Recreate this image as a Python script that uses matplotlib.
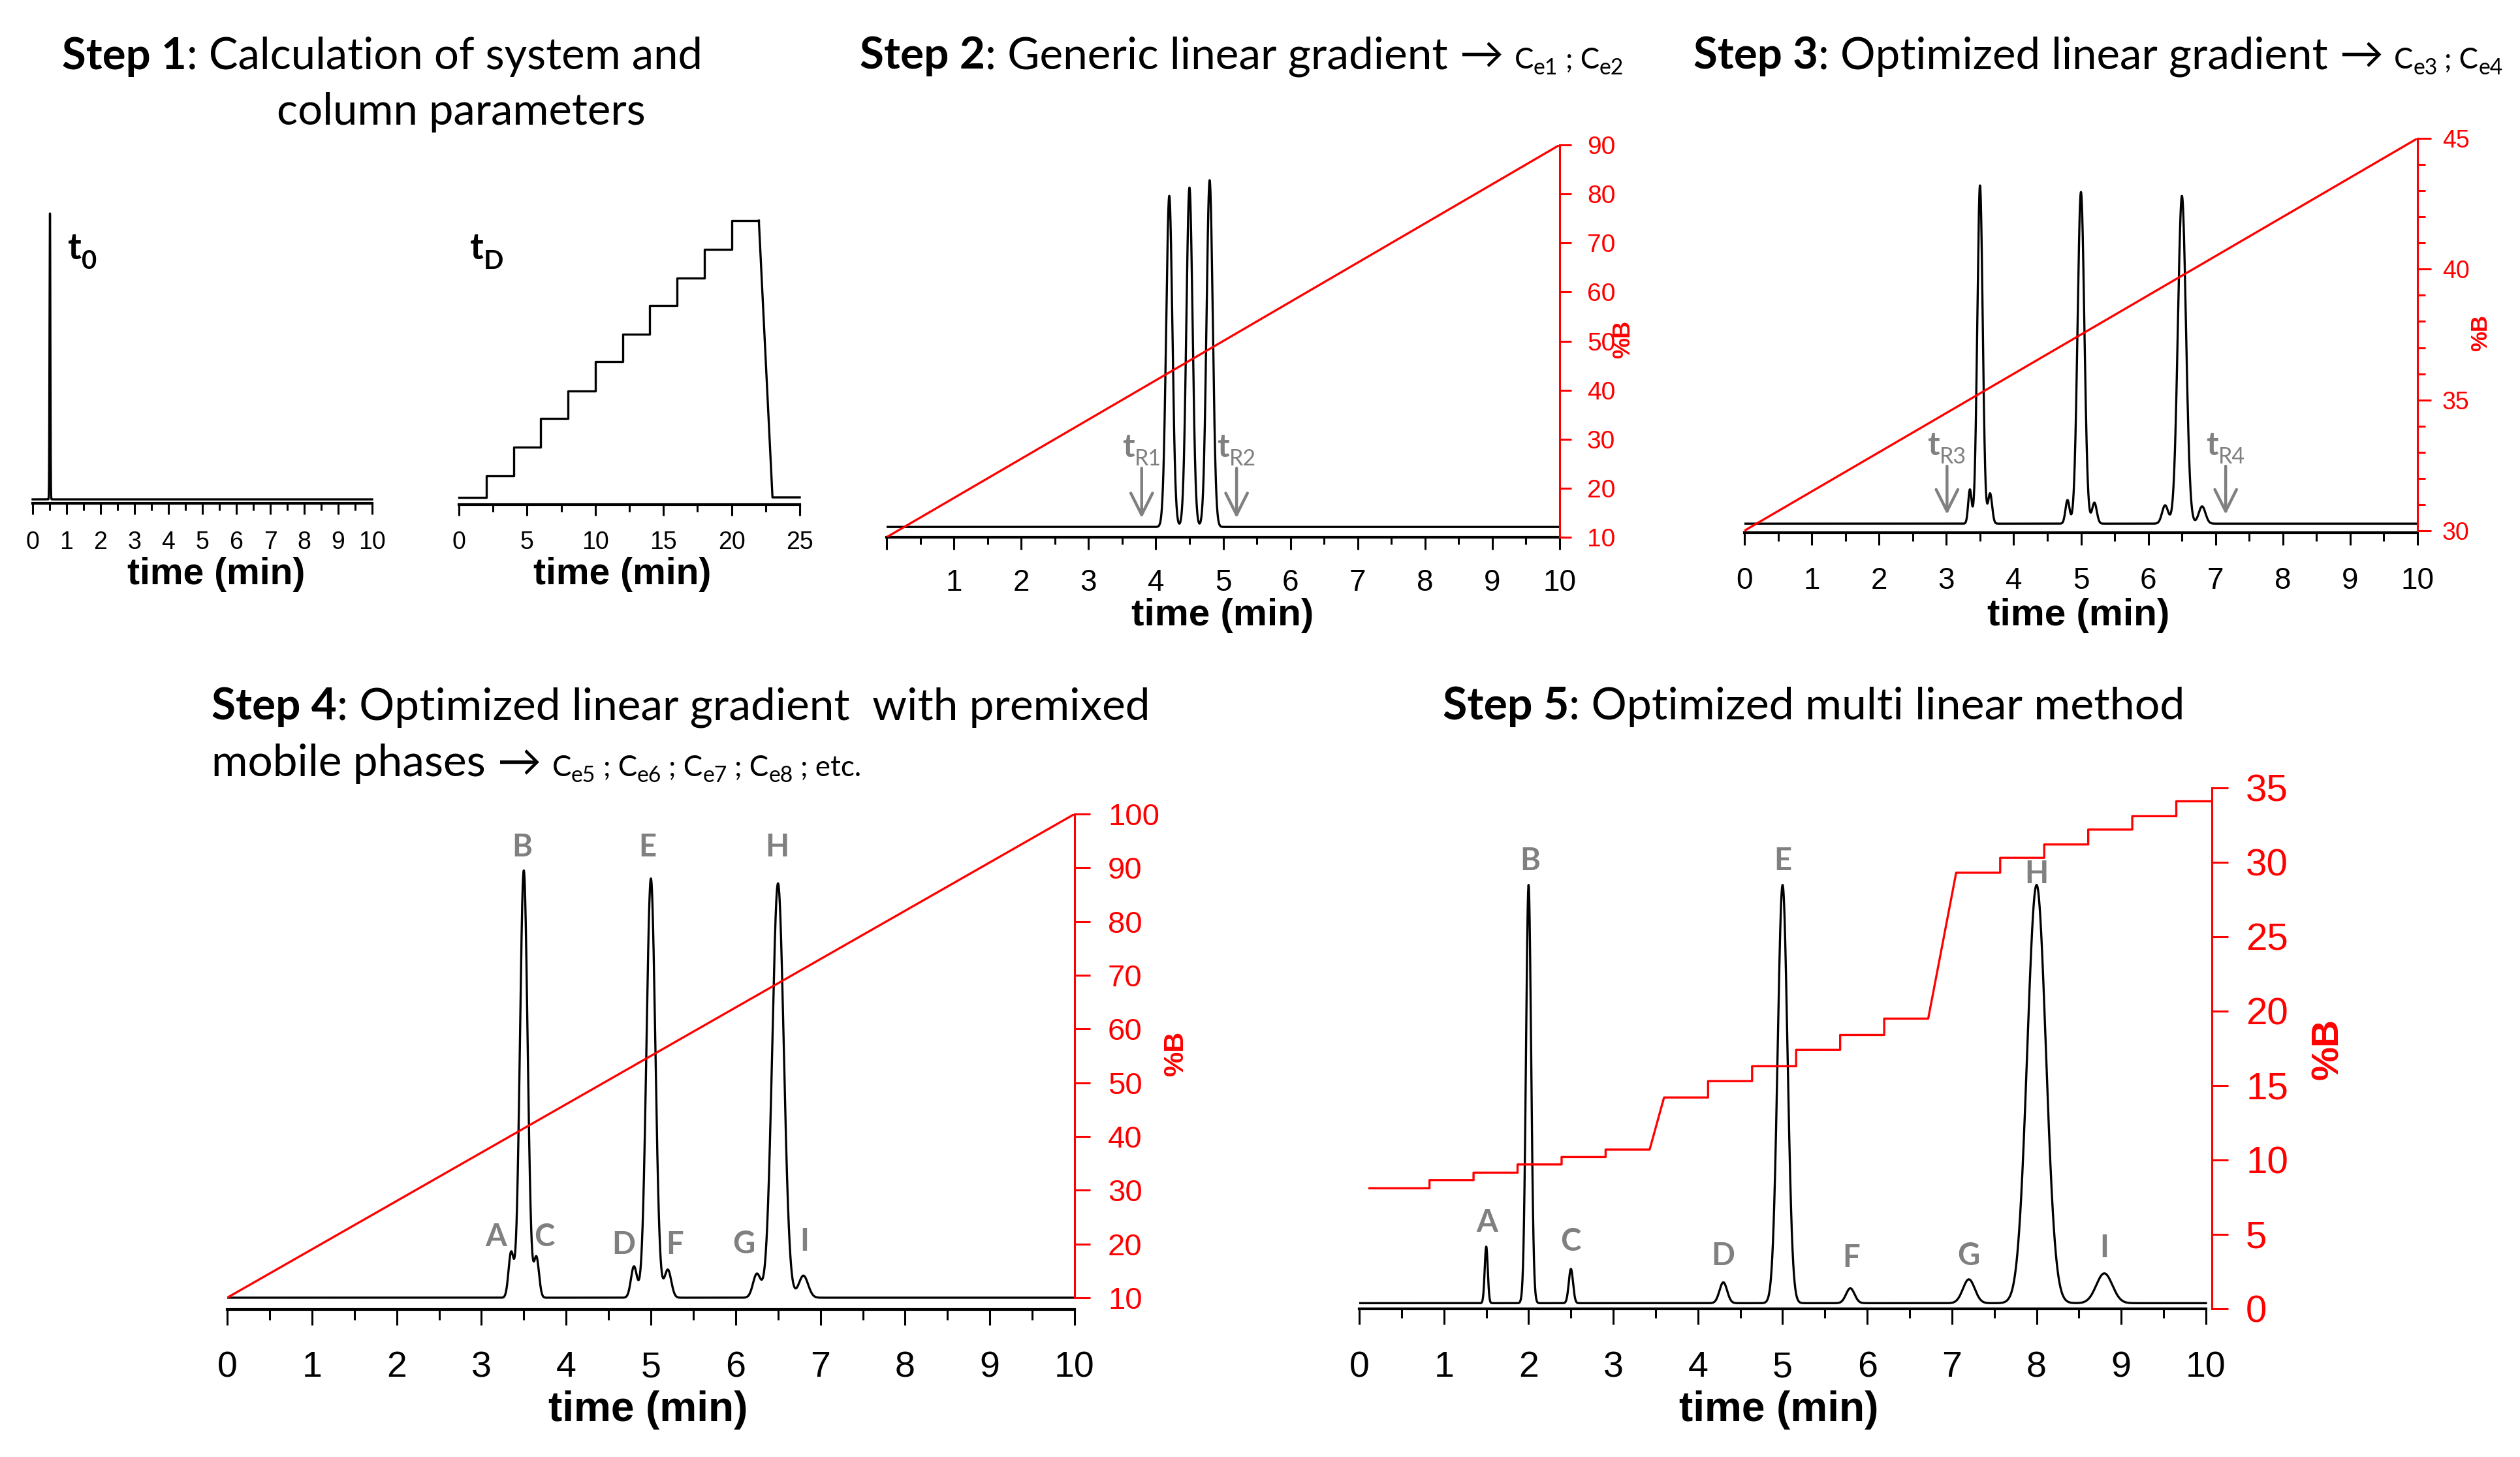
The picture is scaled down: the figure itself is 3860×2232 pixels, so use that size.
import numpy as np
import matplotlib
matplotlib.use('Agg')
import matplotlib.pyplot as plt
from matplotlib import font_manager as fm

# ======================= DATA =======================
# Step 1 : t0 marker and dwell-volume staircase
s1_t0_time = [0.51]
s1_t0_height = [100.0]
s1_t0_sigma = [0.012]
s1_left_ticks = [0, 1, 2, 3, 4, 5, 6, 7, 8, 9, 10]
s1_stair_times = [0, 2, 4, 6, 8, 10, 12, 14, 16, 18, 20, 22]
s1_stair_levels = [0, 0.75, 1.75, 2.75, 3.7, 4.7, 5.65, 6.65, 7.6, 8.6, 9.6, 9.6]
s1_drop_times = [22, 23, 25]
s1_drop_levels = [9.6, 0, 0]
s1_right_ticks = [0, 5, 10, 15, 20, 25]

# Step 2 : generic linear gradient
s2_peak_times = [4.2, 4.5, 4.8]
s2_peak_heights = [67.5, 69.2, 70.7]
s2_peak_sigmas = [0.046, 0.046, 0.046]
s2_baseline_B = 12.1
s2_grad_times = [0, 10]
s2_grad_B = [10, 90]
s2_marker_times = [3.79, 5.2]
s2_marker_names = ['R1', 'R2']
s2_marker_B = [24.1, 13.9]
s2_xticks = [0, 1, 2, 3, 4, 5, 6, 7, 8, 9, 10]
s2_xticklabels = ['', '1', '2', '3', '4', '5', '6', '7', '8', '9', '10']
s2_Bticks = [10, 20, 30, 40, 50, 60, 70, 80, 90]

# Step 3 : optimized linear gradient
s3_peak_times = [3.35, 3.5, 3.65, 4.8, 5.0, 5.2, 6.25, 6.5, 6.8]
s3_peak_heights = [1.3, 12.93, 1.15, 0.9, 12.68, 0.8, 0.7, 12.53, 0.66]
s3_peak_sigmas = [0.025, 0.04, 0.03, 0.03, 0.05, 0.035, 0.045, 0.06, 0.05]
s3_baseline_B = 30.27
s3_grad_times = [0, 10]
s3_grad_B = [30, 45]
s3_marker_times = [3.01, 7.15]
s3_marker_names = ['R3', 'R4']
s3_marker_B = [32.47, 30.62]
s3_xticks = [0, 1, 2, 3, 4, 5, 6, 7, 8, 9, 10]
s3_Bticks = [30, 35, 40, 45]
s3_Bminor = [31, 32, 33, 34, 36, 37, 38, 39, 41, 42, 43, 44]

# Step 4 : optimized linear gradient with premixed mobile phases
s4_names = ['A', 'B', 'C', 'D', 'E', 'F', 'G', 'H', 'I']
s4_peak_times = [3.35, 3.5, 3.65, 4.8, 5.0, 5.2, 6.25, 6.5, 6.8]
s4_peak_heights = [8.3, 79.5, 7.4, 5.8, 78.0, 5.2, 4.4, 77.1, 4.1]
s4_peak_sigmas = [0.03, 0.045, 0.03, 0.035, 0.052, 0.04, 0.045, 0.068, 0.055]
s4_baseline_B = 10.0
s4_label_times = [3.17, 3.48, 3.74, 4.68, 4.96, 5.28, 6.10, 6.49, 6.81]
s4_label_B = [21.3, 93.8, 21.3, 19.8, 93.8, 19.8, 20.0, 93.8, 20.4]
s4_grad_times = [0, 10]
s4_grad_B = [10, 100]
s4_xticks = [0, 1, 2, 3, 4, 5, 6, 7, 8, 9, 10]
s4_Bticks = [10, 20, 30, 40, 50, 60, 70, 80, 90, 100]

# Step 5 : optimized multi-linear method
s5_names = ['A', 'B', 'C', 'D', 'E', 'F', 'G', 'H', 'I']
s5_peak_times = [1.5, 2.0, 2.5, 4.3, 5.0, 5.8, 7.2, 8.0, 8.8]
s5_peak_heights = [3.8, 28.1, 2.3, 1.4, 28.1, 1.0, 1.6, 28.1, 2.0]
s5_peak_sigmas = [0.018, 0.03, 0.025, 0.045, 0.058, 0.05, 0.07, 0.11, 0.095]
s5_baseline_B = 0.38
s5_label_times = [1.51, 2.02, 2.50, 4.30, 5.00, 5.81, 7.20, 8.00, 8.80]
s5_label_B = [5.8, 30.1, 4.5, 3.56, 30.1, 3.4, 3.56, 29.2, 4.1]
s5_plateau_start = [0.12, 0.83, 1.35, 1.87, 2.39, 2.91, 3.60, 4.12, 4.64,
                    5.16, 5.68, 6.20, 7.05, 7.57, 8.09, 8.61, 9.13, 9.65]
s5_plateau_end = [0.83, 1.35, 1.87, 2.39, 2.91, 3.43, 4.12, 4.64, 5.16,
                  5.68, 6.20, 6.72, 7.57, 8.09, 8.61, 9.13, 9.65, 10.07]
s5_plateau_B = [8.1, 8.65, 9.15, 9.7, 10.2, 10.7, 14.2, 15.3, 16.3,
                17.4, 18.4, 19.5, 29.3, 30.3, 31.2, 32.2, 33.1, 34.1]
s5_xticks = [0, 1, 2, 3, 4, 5, 6, 7, 8, 9, 10]
s5_Bticks = [0, 5, 10, 15, 20, 25, 30, 35]

# ======================= SETUP =======================
W, H, DPI = 3860, 2232, 100
names = {f.name for f in fm.fontManager.ttflist}
TITLE_FONT = 'Lato' if 'Lato' in names else 'DejaVu Sans'
AX_FONT = 'Liberation Sans' if 'Liberation Sans' in names else 'DejaVu Sans'
plt.rcParams['font.family'] = [AX_FONT, 'DejaVu Sans']
TF = [TITLE_FONT, 'DejaVu Sans']
GRAY = '#808080'
RED = '#ff0000'
LW_AX = 3.0
LW_TICK = 2.2
LW_TRACE = 2.4

fig = plt.figure(figsize=(W / DPI, H / DPI), dpi=DPI, facecolor='white')
renderer = fig.canvas.get_renderer()


def px_axes(x0, x1, ytop, ybot):
    ax = fig.add_axes([x0 / W, 1 - ybot / H, (x1 - x0) / W, (ybot - ytop) / H])
    ax.patch.set_alpha(0)
    return ax


def _w(s, props):
    t = fig.text(0, 0, s, **props)
    w = t.get_window_extent(renderer).width
    t.remove()
    return w


def advance(s, props):
    return _w('|' + s + '|', props) - _w('||', props)


def rich(x_px, base_px, pieces, fs, color='black', draw=True):
    x = x_px
    for s, scale, weight, dy in pieces:
        props = dict(fontsize=fs * scale, fontweight=weight, family=TF)
        core = s.strip(' ')
        lead = len(s) - len(s.lstrip(' '))
        trail = len(s) - len(s.rstrip(' ')) if core else 0
        if lead:
            x += advance(' ' * lead, props)
        if core:
            if draw:
                fig.text(x / W, 1 - (base_px + dy) / H, core, ha='left',
                         va='baseline', color=color, **props)
            x += advance(core, props)
        if trail:
            x += advance(' ' * trail, props)
    return x - x_px


def fit_size(pieces, target, fs0=44.0):
    return fs0 * target / rich(0, 0, pieces, fs0, draw=False)


def chromatogram(t, centers, heights, sigmas):
    y = np.zeros_like(t)
    for c, h, s in zip(centers, heights, sigmas):
        y += h * np.exp(-0.5 * ((t - c) / s) ** 2)
    return y


def bottom_only(ax):
    for s in ['left', 'top', 'right']:
        ax.spines[s].set_visible(False)
    ax.spines['bottom'].set_linewidth(LW_AX)
    ax.set_yticks([])


def set_xticks(ax, major, labels, minor, fs, major_len, minor_len, axis_px, center_px):
    ax.set_xticks(major)
    ax.set_xticklabels(labels)
    ax.set_xticks(minor, minor=True)
    fs_px = fs / 0.72
    pad_px = center_px - axis_px - major_len - 0.716 * fs_px / 2
    ax.tick_params(axis='x', which='major', direction='out', length=major_len * 0.72,
                   width=LW_TICK, labelsize=fs, pad=pad_px * 0.72)
    ax.tick_params(axis='x', which='minor', direction='out', length=minor_len * 0.72,
                   width=LW_TICK)


def red_axis(ax2, lims, bounds, major, minor, fs, major_len, minor_len, pad_px):
    ax2.set_ylim(*lims)
    for s in ['left', 'top', 'bottom']:
        ax2.spines[s].set_visible(False)
    ax2.spines['right'].set_color(RED)
    ax2.spines['right'].set_linewidth(LW_TICK)
    ax2.spines['right'].set_bounds(*bounds)
    ax2.set_yticks(major)
    ax2.set_yticks(minor, minor=True)
    ax2.tick_params(axis='y', which='major', direction='out', length=major_len * 0.72,
                    width=LW_TICK, colors=RED, labelsize=fs, pad=pad_px * 0.72)
    ax2.tick_params(axis='y', which='minor', direction='out', length=minor_len * 0.72,
                    width=LW_TICK, colors=RED)


def data_to_px(ax, x, y):
    px, py = ax.transData.transform((x, y))
    return px, H - py


def marker(ax, x, y_start, y_end, name):
    ax.annotate('', xy=(x, y_end), xytext=(x, y_start),
                arrowprops=dict(arrowstyle='->,head_length=0.8,head_width=0.4',
                                color=GRAY, lw=3.2, mutation_scale=30,
                                shrinkA=0, shrinkB=0))
    px, py = data_to_px(ax, x, y_start)
    pieces = [('t', 1.0, 'bold', 0), (name, 0.68, 'normal', 13)]
    wtot = rich(0, 0, pieces, 36, draw=False)
    rich(px - wtot / 2, py - 17, pieces, 36, color=GRAY)


def time_label(cx, cy, fs):
    fig.text(cx / W, 1 - cy / H, 'time (min)', ha='center', va='center',
             fontsize=fs, fontweight='bold', color='black')


def pct_label(cx, cy, fs):
    fig.text(cx / W, 1 - cy / H, '%B', ha='center', va='center', rotation=90,
             fontsize=fs, fontweight='bold', color=RED)


half = lambda a, b: list(np.arange(a, b + 1e-9, 0.5))

# ======================= STEP 1 =======================
ax = px_axes(50, 570, 327, 771)
t = np.linspace(0, 10, 20001)
ax.plot(t, chromatogram(t, s1_t0_time, s1_t0_height, s1_t0_sigma),
        color='black', lw=LW_TRACE, clip_on=False)
ax.set_xlim(0, 10)
ax.set_ylim(-1.37, 100)
bottom_only(ax)
set_xticks(ax, s1_left_ticks, [str(v) for v in s1_left_ticks], half(0, 10),
           27, 17, 11, 771, 826)

ax = px_axes(703, 1225, 338, 773)
ax.step(s1_stair_times, s1_stair_levels, where='post', color='black', lw=LW_TRACE,
        clip_on=False)
ax.plot(s1_drop_times, s1_drop_levels, color='black', lw=LW_TRACE, clip_on=False)
ax.set_xlim(0, 25)
ax.set_ylim(-0.25, 9.6)
bottom_only(ax)
set_xticks(ax, s1_right_ticks, [str(v) for v in s1_right_ticks],
           list(np.arange(0, 25.01, 2.5)), 27, 17, 11, 773, 826)

time_label(331, 880, 41)
time_label(953, 880, 41)
rich(104, 397, [('t', 1.0, 'bold', 0), ('0', 0.72, 'bold', 15)], 40)
rich(720, 397, [('t', 1.0, 'bold', 0), ('D', 0.72, 'bold', 15)], 40)

# ======================= STEP 2 =======================
ax = px_axes(1358, 2389, 222, 823)
ax2 = ax.twinx()
ax.set_xlim(0, 10)
ax.set_ylim(10 - s2_baseline_B, 90 - s2_baseline_B)
t = np.linspace(0, 10, 5001)
ax.plot(t, chromatogram(t, s2_peak_times, s2_peak_heights, s2_peak_sigmas),
        color='black', lw=LW_TRACE)
bottom_only(ax)
set_xticks(ax, s2_xticks, s2_xticklabels, half(0, 10), 33, 19, 11, 823, 887)
red_axis(ax2, (10, 90), (10, 90), s2_Bticks, [], 28, 18, 0, 24)
ax2.plot(s2_grad_times, s2_grad_B, color=RED, lw=LW_TRACE)
for xm, nm in zip(s2_marker_times, s2_marker_names):
    marker(ax2, xm, s2_marker_B[0], s2_marker_B[1], nm)
time_label(1873, 943, 42)
pct_label(2487, 520, 26)

# ======================= STEP 3 =======================
ax = px_axes(2672, 3703, 212, 816)
ax2 = ax.twinx()
ax.set_xlim(0, 10)
lo3 = 29.925
ax.set_ylim(lo3 - s3_baseline_B, 45 - s3_baseline_B)
ax.plot(t, chromatogram(t, s3_peak_times, s3_peak_heights, s3_peak_sigmas),
        color='black', lw=LW_TRACE)
bottom_only(ax)
set_xticks(ax, s3_xticks, [str(v) for v in s3_xticks], half(0, 10), 33, 19, 13, 816, 884)
red_axis(ax2, (lo3, 45), (30, 45), s3_Bticks, s3_Bminor, 27, 21, 12, 17)
ax2.plot(s3_grad_times, s3_grad_B, color=RED, lw=LW_TRACE)
for xm, nm in zip(s3_marker_times, s3_marker_names):
    marker(ax2, xm, s3_marker_B[0], s3_marker_B[1], nm)
time_label(3184, 943, 42)
pct_label(3800, 510, 25)

# ======================= STEP 4 =======================
ax = px_axes(348, 1646, 1247, 2006)
ax2 = ax.twinx()
ax.set_xlim(0, 10)
lo4 = 7.81
ax.set_ylim(lo4 - s4_baseline_B, 100 - s4_baseline_B)
ax.plot(t, chromatogram(t, s4_peak_times, s4_peak_heights, s4_peak_sigmas),
        color='black', lw=LW_TRACE)
bottom_only(ax)
set_xticks(ax, s4_xticks, [str(v) for v in s4_xticks], half(0, 10), 40, 24, 16, 2006, 2089)
red_axis(ax2, (lo4, 100), (10, 100), s4_Bticks, [], 34, 24, 0, 27)
ax2.plot(s4_grad_times, s4_grad_B, color=RED, lw=LW_TRACE)
for nm, xl, yl in zip(s4_names, s4_label_times, s4_label_B):
    ax2.text(xl, yl, nm, ha='center', va='center', color=GRAY, fontsize=34,
             fontweight='bold', family=TF)
time_label(993, 2160, 46)
pct_label(1801, 1613, 31)

# ======================= STEP 5 =======================
ax = px_axes(2082, 3388, 1207, 2005)
ax2 = ax.twinx()
ax.set_xlim(0, 10.07)
ax.set_ylim(0 - s5_baseline_B, 35 - s5_baseline_B)
ax.plot(t, chromatogram(t, s5_peak_times, s5_peak_heights, s5_peak_sigmas),
        color='black', lw=LW_TRACE)
bottom_only(ax)
ax.spines['bottom'].set_bounds(0, 10)
set_xticks(ax, s5_xticks, [str(v) for v in s5_xticks], half(0, 10), 40, 24, 14, 2005, 2089)
red_axis(ax2, (0, 35), (0, 35), s5_Bticks, [], 42, 25, 0, 27)
gx = np.column_stack([s5_plateau_start, s5_plateau_end]).ravel()
gy = np.column_stack([s5_plateau_B, s5_plateau_B]).ravel()
ax2.plot(gx, gy, color=RED, lw=LW_TRACE)
for nm, xl, yl in zip(s5_names, s5_label_times, s5_label_B):
    ax2.text(xl, yl, nm, ha='center', va='center', color=GRAY, fontsize=34,
             fontweight='bold', family=TF)
time_label(2725, 2160, 46)
pct_label(3566, 1607, 42)

# ======================= TITLES =======================
SUB = 9
p1a = [('Step 1', 1, 'bold', 0), (': Calculation of system and', 1, 'normal', 0)]
p1b = [('column parameters', 1, 'normal', 0)]
fs1 = fit_size(p1a, 981)
rich(95, 106, p1a, fs1)
rich(424, 191, p1b, fs1)

p2 = [('Step 2', 1, 'bold', 0), (': Generic linear gradient ', 1, 'normal', 0),
      ('\u2192 ', 1, 'normal', 0), ('C', 0.65, 'normal', 0), ('e1', 0.5, 'normal', SUB),
      (' ; C', 0.65, 'normal', 0), ('e2', 0.5, 'normal', SUB)]
rich(1317, 105, p2, fit_size(p2, 1170))

p3 = [('Step 3', 1, 'bold', 0), (': Optimized linear gradient ', 1, 'normal', 0),
      ('\u2192 ', 1, 'normal', 0), ('C', 0.65, 'normal', 0), ('e3', 0.5, 'normal', SUB),
      (' ; C', 0.65, 'normal', 0), ('e4', 0.5, 'normal', SUB)]
rich(2594, 105, p3, fit_size(p3, 1241))

p4a = [('Step 4', 1, 'bold', 0), (': Optimized linear gradient  with premixed', 1, 'normal', 0)]
p4b = [('mobile phases ', 1, 'normal', 0), ('\u2192 ', 1, 'normal', 0),
       ('C', 0.65, 'normal', 0), ('e5', 0.5, 'normal', SUB),
       (' ; C', 0.65, 'normal', 0), ('e6', 0.5, 'normal', SUB),
       (' ; C', 0.65, 'normal', 0), ('e7', 0.5, 'normal', SUB),
       (' ; C', 0.65, 'normal', 0), ('e8', 0.5, 'normal', SUB),
       (' ; etc.', 0.65, 'normal', 0)]
fs4 = fit_size(p4a, 1438)
rich(324, 1102, p4a, fs4)
rich(324, 1189, p4b, fs4)

p5 = [('Step 5', 1, 'bold', 0), (': Optimized multi linear method', 1, 'normal', 0)]
rich(2210, 1102, p5, fit_size(p5, 1137))

fig.savefig('out.png', dpi=DPI, facecolor='white')
